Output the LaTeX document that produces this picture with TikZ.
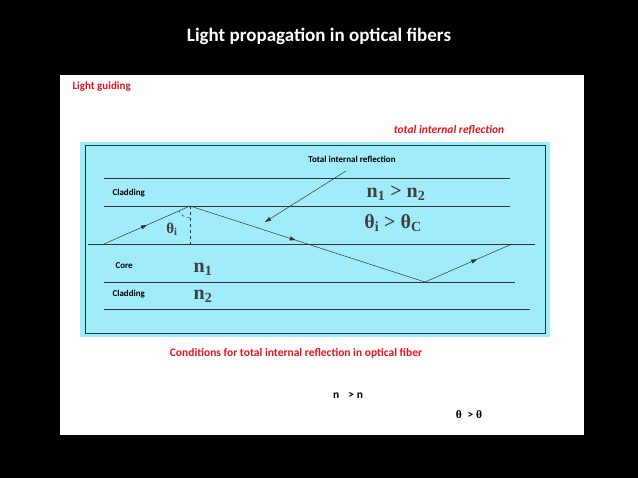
\documentclass[tikz,border=0pt]{standalone}
\usepackage{fontspec}
\setmainfont{Carlito}
\newfontfamily\serifgr{Liberation Serif}
\usetikzlibrary{arrows.meta,decorations.markings}
\definecolor{fib}{RGB}{160,236,250}
\definecolor{redt}{RGB}{230,20,30}
\begin{document}
\begin{tikzpicture}[x=1pt,y=-1pt,
  lbl/.style={font=\bfseries\fontsize{9}{10}\selectfont},
  big/.style={font=\serifgr\bfseries\fontsize{20}{22}\selectfont, text=black!75},
  ln/.style={black!80, line width=0.5pt},
  midarr/.style={postaction={decorate},decoration={markings,mark=at position #1 with {\arrow{Triangle[length=6pt,width=4pt]}}}}]
\fill[black] (0,0) rectangle (638,478);
\useasboundingbox (0,0) rectangle (638,478);
\fill[white] (60,75) rectangle (584,435);
\fill[fib] (80,142) rectangle (550,337);
\draw[teal!50!black, line width=0.8pt] (85,145) rectangle (545,333);
\node[text=white,font=\bfseries\fontsize{19}{22}\selectfont] (title) at (319,36) {Light propagation in optical fibers};
\node[text=redt,font=\bfseries\fontsize{11}{13}\selectfont,anchor=west] (lg) at (69,87) {Light guiding};
\node[text=redt,font=\bfseries\itshape\fontsize{11.5}{13}\selectfont] (tir) at (449,130) {total internal reflection};
\node[text=redt,font=\bfseries\fontsize{11.5}{13}\selectfont] (cond) at (296,353) {Conditions for total internal reflection in optical fiber};
\node[font=\bfseries\fontsize{11.5}{13}\selectfont] (nn) at (348,395) {n\hspace{0.8em}> n};
\node[font=\bfseries\fontsize{11.5}{13}\selectfont] (tt) at (469,415) {\serifgr θ\ \ \normalfont\bfseries> \serifgr θ};
% fiber lines
\draw[ln] (104,178) -- (510,178);
\draw[ln] (104,206) -- (510,206);
\draw[ln] (88,244) -- (535,244);
\draw[ln] (104,282) -- (515,282);
\draw[ln] (104,309) -- (530,309);
\coordinate (p0) at (104,244);
\coordinate (p1) at (190,206);
\coordinate (p2) at (425,282);
\coordinate (p3) at (512,244);
\draw[ln,midarr=0.5] (p0) -- (p1);
\draw[ln,midarr=0.45] (p1) -- (p2);
\draw[ln,midarr=0.6] (p2) -- (p3);
\draw[ln,dashed] (p1) -- (190,244);
\draw[ln,dashed] (190,218) arc[start angle=90,end angle=155,radius=12];
\coordinate (a0) at (346,171);
\coordinate (a1) at (265,222);
\draw[ln,-{Triangle[length=6pt,width=4pt]}] (a0) -- (a1);
\node[lbl] (tirl) at (352,159) {Total internal reflection};
\node[lbl,anchor=west] (c1) at (109,193) {Cladding};
\node[lbl,anchor=west] (co) at (112,266) {Core};
\node[lbl,anchor=west] (c2) at (109,294) {Cladding};
\node[big] (n12) at (396,193) {n\textsubscript{1} > n\textsubscript{2}};
\node[big] (th) at (393,223) {θ\textsubscript{i} > θ\textsubscript{C}};
\node[big,font=\serifgr\bfseries\fontsize{15}{16}\selectfont] (thi) at (172,229) {θ\textsubscript{i}};
\node[big] (n1) at (203,269) {n\textsubscript{1}};
\node[big] (n2) at (203,296) {n\textsubscript{2}};
\end{tikzpicture}
\end{document}
